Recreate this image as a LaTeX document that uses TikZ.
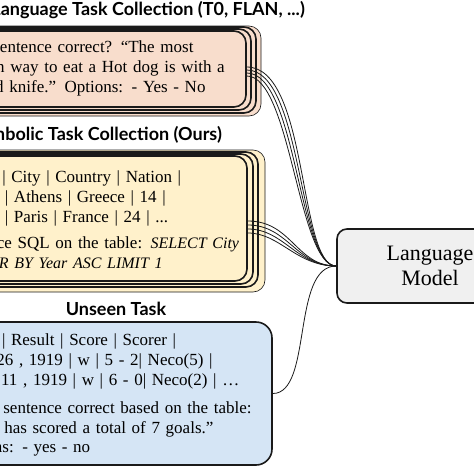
\documentclass[tikz,border=0pt]{standalone}
\usepackage{fontspec}
\setmainfont{Liberation Serif}
\newfontfamily\headfont{Lato}
\usetikzlibrary{positioning,fit}
\definecolor{peach}{HTML}{F8DDCC}
\definecolor{cream}{HTML}{FFF1CB}
\definecolor{skyblue}{HTML}{D5E5F5}
\definecolor{lmgray}{HTML}{F0F0F0}
\definecolor{edge}{HTML}{1A1A1A}
\newcommand{\sqltext}[1]{{\fontsize{16}{20}\selectfont\itshape #1}}

\begin{document}
\begin{tikzpicture}[x=1pt, y=-1pt,
    card/.style={draw=edge, line width=1.6pt, rounded corners=12pt, inner sep=0pt},
    body/.style={inner sep=0pt, anchor=base west, text width=420pt, align=left, font=\fontsize{17}{20}\selectfont},
    head/.style={inner sep=0pt, font=\headfont\bfseries\fontsize{18}{20}\selectfont},
    wire/.style={draw=edge, line width=0.8pt}]
    \useasboundingbox (0,0) rectangle (474,474);
    \clip (0,0) rectangle (474,474);

    % Language task collection
    \node[head, anchor=base east] (ltchead) at (305,15) {Language Task Collection (T0, FLAN, ...)};
    \foreach \i/\r/\t/\b/\w in {4/261/26/116/0.6, 3/256/27/113/1.6, 2/251/29/110/1.6, 1/246/31/107/1.6}
        \node[card, fill=peach, line width=\w pt, fit={(-70,\t) (\r,\b)}] (ltc\i) {};
    \node[body] (ltctext) at (-55,52) {Is this sentence correct? “The most\\
        common way to eat a Hot dog is with a\\
        fork and knife.” Options: - Yes - No};

    % Symbolic task collection
    \node[head, anchor=base east] (stchead) at (222,140) {Symbolic Task Collection (Ours)};
    \foreach \i/\r/\t/\b/\w in {4/265/150/292/0.6, 3/258/152/287/1.6, 2/253/154/284/1.6, 1/247/156/281/1.6}
        \node[card, fill=cream, line width=\w pt, fit={(-70,\t) (\r,\b)}] (stc\i) {};
    \node[body] (stctext) at (-44,182) {| Year | City | Country | Nation |\\
        | 1896 | Athens | Greece | 14 |\\
        | 1900 | Paris | France | 24 | ...\\[6pt]
        Produce SQL on the table: \sqltext{SELECT City}\\
        \sqltext{ORDER BY Year ASC LIMIT 1}};

    % Unseen task
    \node[head, anchor=base] (usthead) at (116,315) {Unseen Task};
    \node[card, fill=skyblue, rounded corners=16pt, fit={(-70,322) (272,465)}] (ust) {};
    \node[body] (usttext) at (-45,345) {| Date | Result | Score | Scorer |\\
        | Apr 26 , 1919 | w | 5 - 2| Neco(5) |\\
        | May 11 , 1919 | w | 6 - 0| Neco(2) | …\\[8pt]
        Is this sentence correct based on the table:\\
        “Neco has scored a total of 7 goals.”\\[-1pt]
        Options: - yes - no};

    % Language model
    \node[card, fill=lmgray, rounded corners=10pt, minimum width=186pt, minimum height=74pt,
        align=center, font=\fontsize{22}{25}\selectfont] (lm) at (430,266) {Language\\ Model};

    % Connectors
    \foreach \dy/\cx in {2/62, -1/56, -4/50, -7/44}
        \draw[wire] ([yshift=\dy pt]ltc1.east) .. controls +(\cx,0) and +(-38,0) .. (lm.west);
    \foreach \dy/\cx in {-2.5/44, -6.5/40, -10.5/36, -14.5/32}
        \draw[wire] ([yshift=\dy pt]stc1.east) .. controls +(\cx,0) and +(-40,0) .. (lm.west);
    \draw[wire] (ust.east) .. controls +(40,0) and +(-45,0) .. (lm.west);
\end{tikzpicture}
\end{document}
